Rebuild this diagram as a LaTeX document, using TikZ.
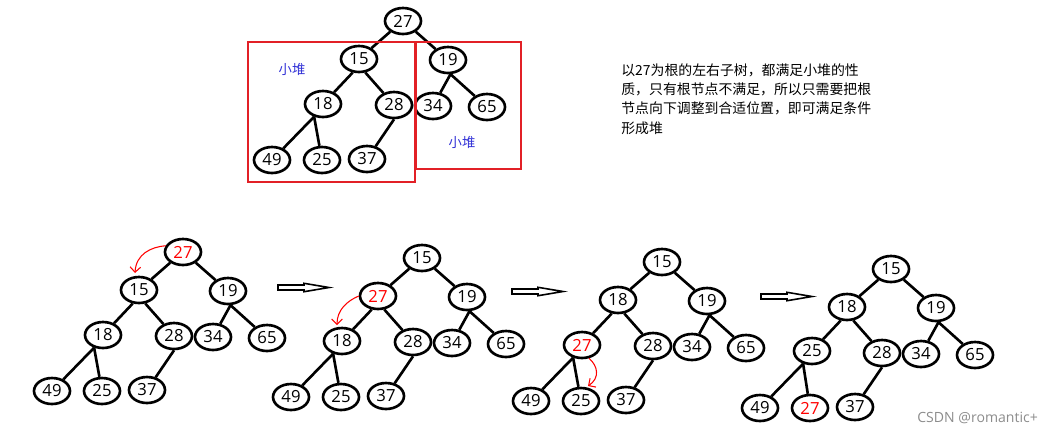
\documentclass[tikz,border=0pt]{standalone}
\usepackage{fontspec}
\setmainfont{Open Sans}
\newfontfamily\cjk{Noto Sans CJK SC}
\usetikzlibrary{arrows.meta}
\usetikzlibrary{shapes.geometric}
\definecolor{heapred}{RGB}{226,32,38}
\definecolor{heapblue}{RGB}{48,48,214}
\tikzstyle{every node}=[inner sep=0pt]
\tikzstyle{keynode}=[ellipse, draw=black, line width=1.5pt, minimum width=0.72cm, minimum height=0.52cm, font=\fontsize{9.5}{11}\selectfont]
\tikzstyle{moved}=[keynode, text=red]
\tikzstyle{link}=[line width=1.5pt]
\tikzstyle{siftarrow}=[draw=red, line width=0.6pt, -{Straight Barb[length=3pt,width=6pt]}]
\tikzstyle{fatarrow}=[draw=black, line width=0.9pt, fill=white]
\tikzstyle{heapbox}=[draw=heapred, line width=0.9pt]
\tikzstyle{heaplabel}=[text=heapblue, font=\cjk\fontsize{7.6}{9}\selectfont]

\begin{document}
\begin{tikzpicture}[x=0.02cm, y=-0.02cm]
    \useasboundingbox (0,0) rectangle (1053,434);

    % Original tree, both subtrees of the root are heaps
    \begin{scope}[shift={(403,21)}]
        \node[keynode] (P0) at (0,0) {27};
        \node[keynode] (P1) at (-44,38) {15};
        \node[keynode] (P2) at (45,39) {19};
        \node[keynode] (P3) at (-80,83) {18};
        \node[keynode] (P4) at (-9,84) {28};
        \node[keynode] (P5) at (30,85) {34};
        \node[keynode] (P6) at (84,86) {65};
        \node[keynode] (P7) at (-131,139) {49};
        \node[keynode] (P8) at (-81,139) {25};
        \node[keynode] (P9) at (-36,138) {37};
        \foreach \i/\a/\j in {0/-140/1,0/-40/2,1/-115/3,1/-65/4,2/-80/5,2/-80/6,3/-125/7,3/-125/8,4/-90/9} {
            \draw[link] (P\i.\a) -- (P\j);
        }
    \end{scope}

    % Red boxes round the two heaps
    \draw[heapbox] (248,42) rectangle (415,182);
    \draw[heapbox] (416,42) rectangle (521,169);
    \node[heaplabel] (HL) at (292,69) {小堆};
    \node[heaplabel] (HR) at (462,142) {小堆};

    \node[anchor=north west, align=left, font=\cjk\fontsize{7.9}{11}\selectfont] (note) at (621,63)
        {以27为根的左右子树，都满足小堆的性\\质，只有根节点不满足，所以只需要把根\\节点向下调整到合适位置，即可满足条件\\形成堆};

    % Step 1: 27 swaps with 15
    \begin{scope}[shift={(183,252)}]
        \node[moved] (P0) at (0,0) {27};
        \node[keynode] (P1) at (-44,38) {15};
        \node[keynode] (P2) at (45,39) {19};
        \node[keynode] (P3) at (-80,83) {18};
        \node[keynode] (P4) at (-9,84) {28};
        \node[keynode] (P5) at (30,85) {34};
        \node[keynode] (P6) at (84,86) {65};
        \node[keynode] (P7) at (-131,139) {49};
        \node[keynode] (P8) at (-81,139) {25};
        \node[keynode] (P9) at (-36,138) {37};
        \foreach \i/\a/\j in {0/-140/1,0/-40/2,1/-115/3,1/-65/4,2/-80/5,2/-80/6,3/-125/7,3/-125/8,4/-90/9} {
            \draw[link] (P\i.\a) -- (P\j);
        }
        \coordinate (t1) at (-48,21);
        \draw[siftarrow] (P0.160) .. controls (-32,-5) and (-47,2) .. (t1);
    \end{scope}

    \draw[fatarrow] (278,285) -- (304,285) -- (304,283.3) -- (329,287.5) -- (304,291.7) -- (304,290) -- (278,290) -- cycle;

    % Step 2: 27 swaps with 18
    \begin{scope}[shift={(422,258)}]
        \node[keynode] (P0) at (0,0) {15};
        \node[moved] (P1) at (-44,38) {27};
        \node[keynode] (P2) at (45,39) {19};
        \node[keynode] (P3) at (-80,83) {18};
        \node[keynode] (P4) at (-9,84) {28};
        \node[keynode] (P5) at (30,85) {34};
        \node[keynode] (P6) at (84,86) {65};
        \node[keynode] (P7) at (-131,139) {49};
        \node[keynode] (P8) at (-81,139) {25};
        \node[keynode] (P9) at (-36,138) {37};
        \foreach \i/\a/\j in {0/-140/1,0/-40/2,1/-115/3,1/-65/4,2/-80/5,2/-80/6,3/-125/7,3/-125/8,4/-90/9} {
            \draw[link] (P\i.\a) -- (P\j);
        }
        \coordinate (t2) at (-85,67);
        \draw[siftarrow] (P1.180) .. controls (-75,43) and (-85,52) .. (t2);
    \end{scope}

    \draw[fatarrow] (512,289) -- (538,289) -- (538,287.3) -- (563,291.5) -- (538,295.7) -- (538,294) -- (512,294) -- cycle;

    % Step 3: 27 swaps with 25
    \begin{scope}[shift={(662,262)}]
        \node[keynode] (P0) at (0,0) {15};
        \node[keynode] (P1) at (-44,38) {18};
        \node[keynode] (P2) at (45,39) {19};
        \node[moved] (P3) at (-80,83) {27};
        \node[keynode] (P4) at (-9,84) {28};
        \node[keynode] (P5) at (30,85) {34};
        \node[keynode] (P6) at (84,86) {65};
        \node[keynode] (P7) at (-131,139) {49};
        \node[keynode] (P8) at (-81,139) {25};
        \node[keynode] (P9) at (-36,138) {37};
        \foreach \i/\a/\j in {0/-140/1,0/-40/2,1/-115/3,1/-65/4,2/-80/5,2/-80/6,3/-125/7,3/-125/8,4/-90/9} {
            \draw[link] (P\i.\a) -- (P\j);
        }
        \coordinate (t3) at (-74,124);
        \draw[siftarrow] (P3.-62) .. controls (-64,104) and (-62,116) .. (t3);
    \end{scope}

    \draw[fatarrow] (761,294) -- (787,294) -- (787,292.3) -- (812,296.5) -- (787,300.7) -- (787,299) -- (761,299) -- cycle;

    % Result: a heap
    \begin{scope}[shift={(891,269)}]
        \node[keynode] (P0) at (0,0) {15};
        \node[keynode] (P1) at (-44,38) {18};
        \node[keynode] (P2) at (45,39) {19};
        \node[keynode] (P3) at (-79,82) {25};
        \node[keynode] (P4) at (-9,84) {28};
        \node[keynode] (P5) at (30,85) {34};
        \node[keynode] (P6) at (84,86) {65};
        \node[keynode] (P7) at (-131,139) {49};
        \node[moved] (P8) at (-81,139) {27};
        \node[keynode] (P9) at (-36,138) {37};
        \foreach \i/\a/\j in {0/-140/1,0/-40/2,1/-115/3,1/-65/4,2/-80/5,2/-80/6,3/-125/7,3/-125/8,4/-90/9} {
            \draw[link] (P\i.\a) -- (P\j);
        }
    \end{scope}

    \node[anchor=base west, text=black!45, font=\fontsize{8}{9}\selectfont] (mark) at (917,422) {CSDN @romantic+};
\end{tikzpicture}
\end{document}
